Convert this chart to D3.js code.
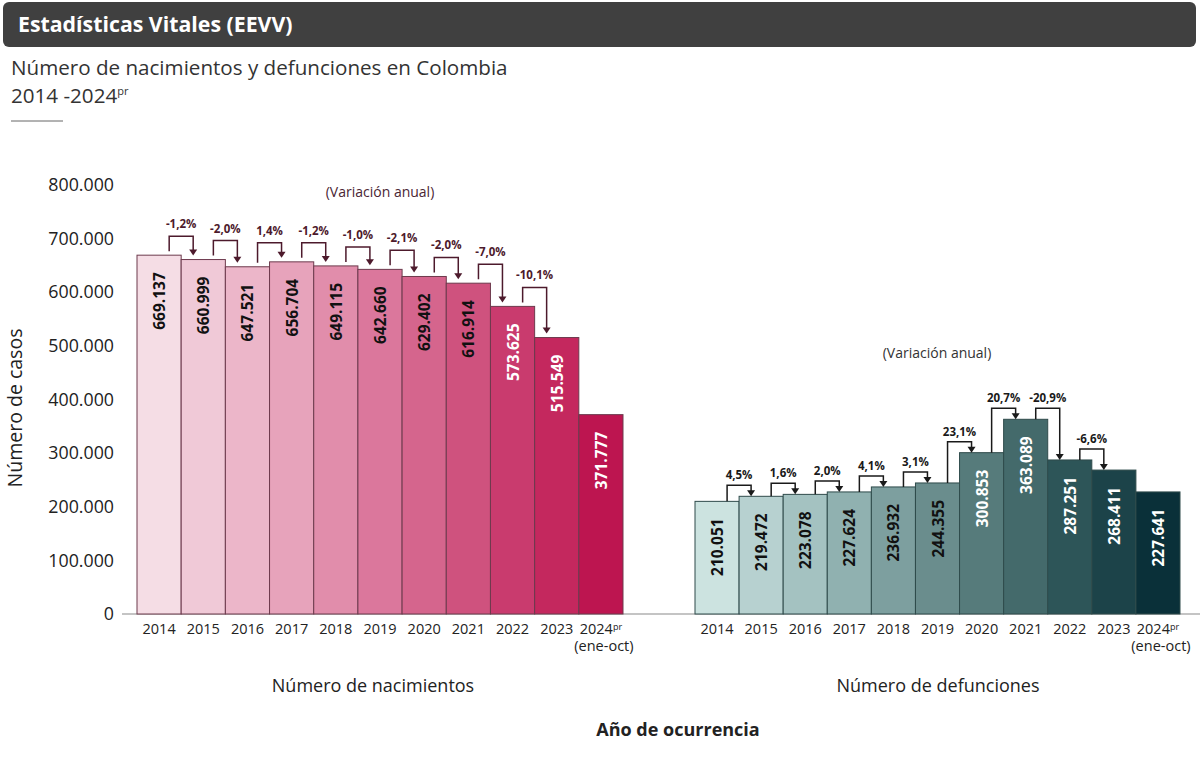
<!DOCTYPE html>
<html><head><meta charset="utf-8">
<script src="https://cdn.jsdelivr.net/npm/d3@7"></script>
<style>
body{margin:0;background:#fff;}
svg text{font-family:"Open Sans",sans-serif;}
</style></head>
<body><svg id="c" width="1200" height="765"></svg>
<script>
const years = ["2014","2015","2016","2017","2018","2019","2020","2021","2022","2023","2024"];
const births = [669137, 660999, 647521, 656704, 649115, 642660, 629402, 616914, 573625, 515549, 371777];
const deaths = [210051, 219472, 223078, 227624, 236932, 244355, 300853, 363089, 287251, 268411, 227641];
const birthsVar = ["-1,2%","-2,0%","1,4%","-1,2%","-1,0%","-2,1%","-2,0%","-7,0%","-10,1%"];
const deathsVar = ["4,5%","1,6%","2,0%","4,1%","3,1%","23,1%","20,7%","-20,9%","-6,6%"];
const birthColors = ["#f5dde5","#f0c9d7","#ecb6c9","#e7a3bb","#e18dab","#db779c","#d5658d","#cf527e","#c93b6e","#c4285e","#bd1550"];
const deathColors = ["#cce3e0","#b7d1d0","#a4c2c1","#90b1b0","#7d9f9f","#6a8d8d","#567b7b","#446a6b","#2d5558","#1c4349","#0a3039"];
const birthLabelWhite = [false,false,false,false,false,false,false,false,true,true,true];
const deathLabelWhite = [false,false,false,false,false,false,true,true,true,true,true];
const yTicks = [0,100000,200000,300000,400000,500000,600000,700000,800000];

const svg = d3.select("#c");
const loc = d3.formatLocale({decimal:",", thousands:".", grouping:[3], currency:["$",""]});
const fmt = loc.format(",d");

// Header
svg.append("rect").attr("x",3).attr("y",2).attr("width",1193).attr("height",45).attr("rx",6).attr("fill","#404040");
svg.append("text").attr("x",18).attr("y",32).attr("fill","#fff").attr("font-size",21.3).attr("font-weight",700).text("Estadísticas Vitales (EEVV)");
svg.append("text").attr("x",11).attr("y",75).attr("fill","#333").attr("font-size",20.6).text("Número de nacimientos y defunciones en Colombia");
const st = svg.append("text").attr("x",11).attr("y",103).attr("fill","#333").attr("font-size",20.6);
st.append("tspan").text("2014 -2024");
st.append("tspan").attr("font-size",11).attr("dy",-8).text("pr");
svg.append("line").attr("x1",11).attr("x2",63).attr("y1",121).attr("y2",121).attr("stroke","#666").attr("stroke-width",1);

// Scales
const y = d3.scaleLinear().domain([0,800000]).range([614,185]);
const xB = d3.scaleBand().domain(years).range([137,623]).padding(0);
const xD = d3.scaleBand().domain(years).range([695,1180]).padding(0);

// Y axis
const yAxis = svg.append("g").attr("transform","translate(114,0)")
  .call(d3.axisLeft(y).tickValues(yTicks).tickSize(0).tickPadding(0).tickFormat(d=>fmt(d)));
yAxis.select(".domain").remove();
yAxis.selectAll("text").attr("font-size",17.8).attr("fill","#222").attr("font-family","Open Sans");
svg.append("text").attr("transform","translate(22,408) rotate(-90)").attr("text-anchor","middle")
  .attr("font-size",19.5).attr("fill","#222").text("Número de casos");

// Baseline
svg.append("line").attr("x1",122).attr("x2",1200).attr("y1",y(0)).attr("y2",y(0)).attr("stroke","#8a8a8a").attr("stroke-width",1.2);

function group(x, vals, colors, white, vars, strokeCol, arrowCol, hOff, legGap, labOff) {
  const g = svg.append("g");
  g.selectAll("rect.bar").data(vals).join("rect").attr("class","bar")
    .attr("x",(d,i)=>x(years[i])).attr("width",x.bandwidth())
    .attr("y",d=>y(d)).attr("height",d=>y(0)-y(d))
    .attr("fill",(d,i)=>colors[i]).attr("stroke",strokeCol).attr("stroke-width",1);
  g.selectAll("text.val").data(vals).join("text").attr("class","val")
    .attr("transform",(d,i)=>`translate(${x(years[i])+x.bandwidth()/2+6},${y(d)+17}) rotate(-90)`)
    .attr("text-anchor","end").attr("font-size",15.5).attr("font-weight",700)
    .attr("fill",(d,i)=>white[i]?"#fff":"#111").text(d=>fmt(d));
  // brackets
  vars.forEach((v,i)=>{
    const t1 = y(vals[i]), t2 = y(vals[i+1]);
    const bx = x(years[i+1]);
    const xl = bx-12, xr = bx+12;
    const hy = Math.min(t1,t2)-hOff;
    const tip = t2-legGap;
    g.append("path").attr("d",`M${xl},${t1-legGap}V${hy}H${xr}V${tip-5}`)
      .attr("fill","none").attr("stroke",arrowCol).attr("stroke-width",1.5);
    g.append("path").attr("d",`M${xr-4},${tip-6}L${xr+4},${tip-6}L${xr},${tip}Z`).attr("fill",arrowCol);
    g.append("text").attr("x",bx).attr("y",hy-labOff).attr("text-anchor","middle")
      .attr("font-size",11.5).attr("font-weight",700).attr("fill",arrowCol).text(v);
  });
  // x axis
  const xa = svg.append("g").attr("transform",`translate(0,${y(0)})`)
    .call(d3.axisBottom(x).tickSize(0).tickPadding(10));
  xa.select(".domain").remove();
  xa.selectAll("text").attr("font-size",14.5).attr("fill","#222").attr("font-family","Open Sans");
  const last = xa.selectAll(".tick").filter(d=>d==="2024").select("text");
  last.text(null);
  last.append("tspan").text("2024");
  last.append("tspan").attr("font-size",9).attr("dy","-0.5em").text("pr");
  xa.selectAll(".tick").filter(d=>d==="2024").append("text")
    .attr("x",3).attr("y",37).attr("text-anchor","middle").attr("font-size",14.5).attr("fill","#222").text("(ene-oct)");
}
group(xB, births, birthColors, birthLabelWhite, birthsVar, "#6d3a4d", "#4d1a2c", 19, 4, 8);
group(xD, deaths, deathColors, deathLabelWhite, deathsVar, "#2f4b4b", "#1a1a1a", 11, 0, 6);

svg.append("text").attr("x",380).attr("y",197).attr("text-anchor","middle").attr("font-size",14).attr("fill","#4a2533").text("(Variación anual)");
svg.append("text").attr("x",937).attr("y",358).attr("text-anchor","middle").attr("font-size",14).attr("fill","#333").text("(Variación anual)");

svg.append("text").attr("x",373).attr("y",692).attr("text-anchor","middle").attr("font-size",18).attr("fill","#222").text("Número de nacimientos");
svg.append("text").attr("x",938).attr("y",692).attr("text-anchor","middle").attr("font-size",18).attr("fill","#222").text("Número de defunciones");
svg.append("text").attr("x",678).attr("y",736).attr("text-anchor","middle").attr("font-size",18).attr("font-weight",700).attr("fill","#222").text("Año de ocurrencia");
</script></body></html>
